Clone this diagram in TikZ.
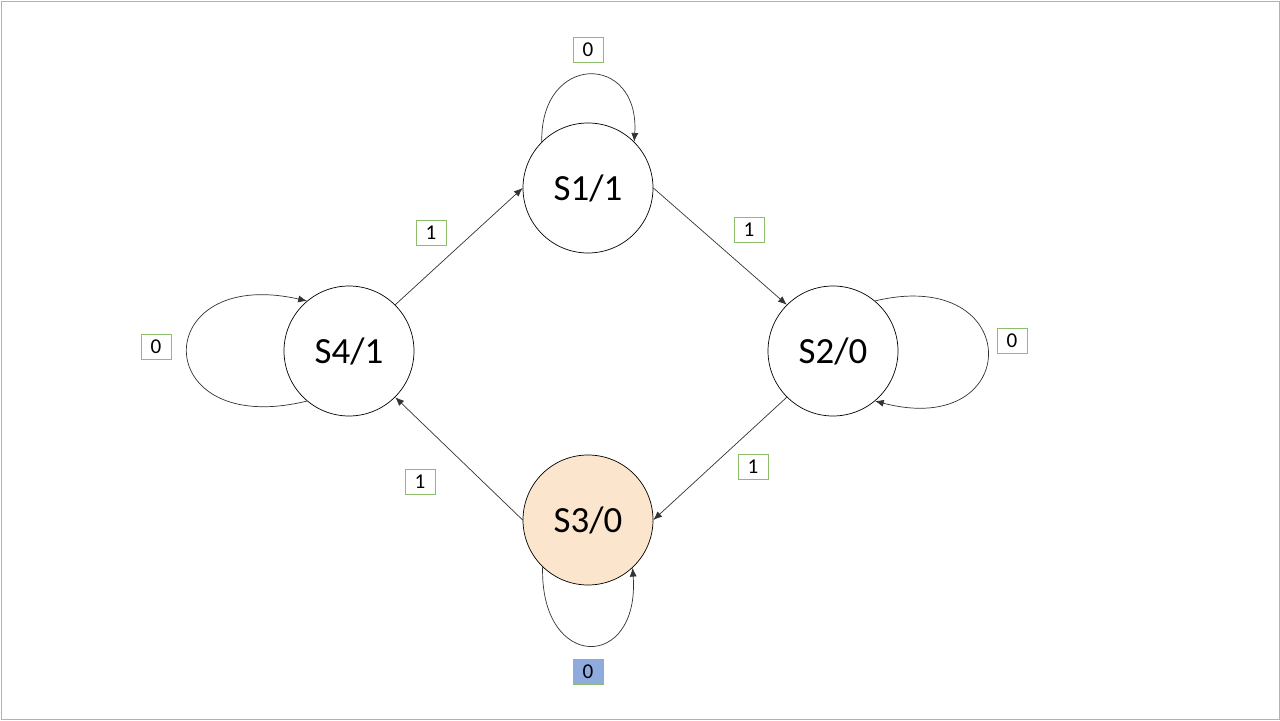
\documentclass[tikz,border=0pt]{standalone}
\usepackage{fontspec}
\setmainfont{Carlito}
\usetikzlibrary{arrows.meta}
\definecolor{lblgreen}{RGB}{140,190,110}
\definecolor{lblblue}{RGB}{143,170,220}
\definecolor{peach}{RGB}{252,229,205}
\tikzset{
  state/.style={circle,draw,thin,minimum size=2.6cm,inner sep=0pt,font=\fontsize{21}{24}\selectfont},
  lbl/.style={draw=lblgreen,thin,inner sep=2.5pt,minimum width=0.6cm,minimum height=0.5cm,font=\fontsize{12}{14}\selectfont},
  tr/.style={-{Latex[length=5pt,width=4pt]},line width=0.4pt,black!80}
}
\begin{document}
\begin{tikzpicture}
                \useasboundingbox (0,0) rectangle (25.6,14.4);
                \draw[gray!60] (0.02,0.02) rectangle (25.58,14.38);
                \node[state] (S1) at (11.76,10.64) {S1/1};
                \node[state] (S2) at (16.66,7.38) {S2/0};
                \node[state,fill=peach] (S3) at (11.76,4.0) {S3/0};
                \node[state] (S4) at (6.98,7.38) {S4/1};
                \node[lbl] (L1) at (11.76,13.4) {0};
                \node[lbl] (L2) at (14.98,9.8) {1};
                \node[lbl] (L3) at (20.24,7.58) {0};
                \node[lbl] (L4) at (15.06,5.06) {1};
                \node[lbl,fill=lblblue] (L5) at (11.76,0.96) {0};
                \node[lbl] (L6) at (8.4,4.76) {1};
                \node[lbl] (L7) at (3.12,7.46) {0};
                \node[lbl] (L8) at (8.62,9.74) {1};
                \draw[tr] (S4.45) -- (S1.west);
                \draw[tr] (S1.east) -- (S2.135);
                \draw[tr] (S2.-135) -- (S3.east);
                \draw[tr] (S3.west) -- (S4.-45);
                \draw[tr] (S1.135) .. controls (10.8,13.35) and (12.8,13.35) .. (S1.45);
                \draw[tr] (S2.50) .. controls (20.5,9.1) and (20.5,5.6) .. (S2.-50);
                \draw[tr] (S3.-134) .. controls (10.8,0.97) and (12.8,0.97) .. (S3.-47);
                \draw[tr] (S4.-130) .. controls (2.95,5.6) and (2.95,9.1) .. (S4.130);
            \end{tikzpicture}
\end{document}
